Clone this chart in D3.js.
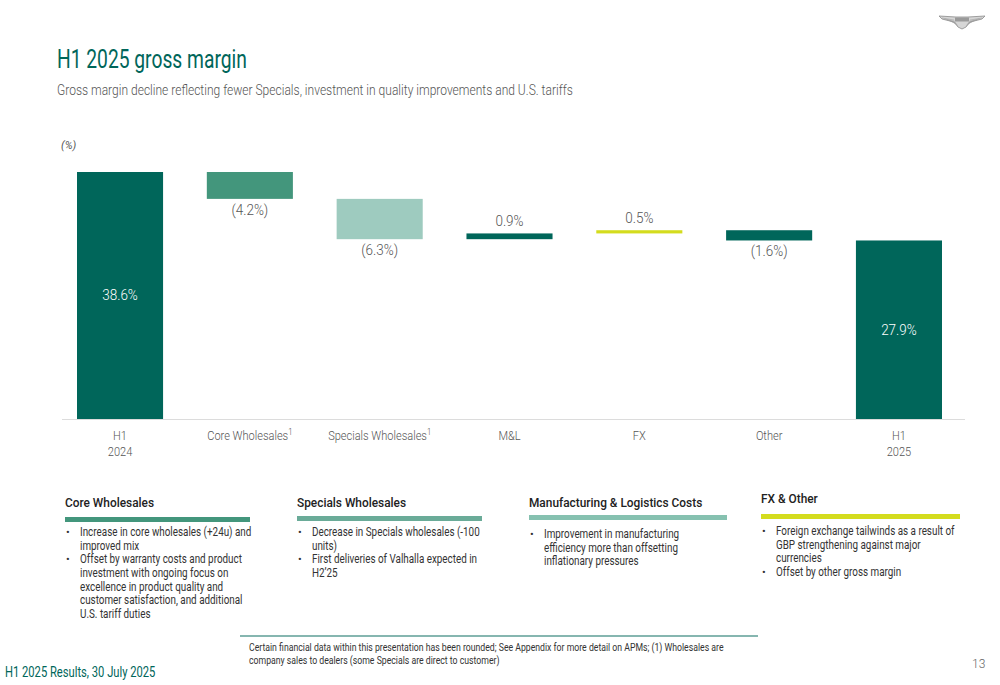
<!DOCTYPE html>
<html><head><meta charset="utf-8">
<script src="https://cdn.jsdelivr.net/npm/d3@7/dist/d3.min.js"></script>
<style>
html,body{margin:0;padding:0;background:#fff;}
svg{display:block;}
.t{font-family:"Roboto","Liberation Sans",sans-serif;}
</style></head>
<body>
<svg id="c" width="1000" height="685"></svg>
<script>
// ---- data ----
const categories = ["H1|2024", "Core Wholesales", "Specials Wholesales", "M&L", "FX", "Other", "H1|2025"];
const superscripts = ["", "1", "1", "", "", "", ""];
const kinds = ["total", "delta", "delta", "delta", "delta", "delta", "total"];
const values = [38.6, -4.2, -6.3, 0.9, 0.5, -1.6, 27.9];
const labels = ["38.6%", "(4.2%)", "(6.3%)", "0.9%", "0.5%", "(1.6%)", "27.9%"];
const barColors = ["#00665a", "#43967c", "#9ecbbf", "#00665a", "#d4dc1e", "#00665a", "#00665a"];

const sections = ["Core Wholesales", "Specials Wholesales", "Manufacturing & Logistics Costs", "FX & Other"];
const sectionColors = ["#43967c", "#6aab98", "#86c1b0", "#d4dc1e"];
const sectionBullets = [
  [["Increase in core wholesales (+24u) and", "improved mix"],
   ["Offset by warranty costs and product", "investment with ongoing focus on", "excellence in product quality and", "customer satisfaction, and additional", "U.S. tariff duties"]],
  [["Decrease in Specials wholesales (-100", "units)"],
   ["First deliveries of Valhalla expected in", "H2\u201925"]],
  [["Improvement in manufacturing", "efficiency more than offsetting", "inflationary pressures"]],
  [["Foreign exchange tailwinds as a result of", "GBP strengthening against major", "currencies"],
   ["Offset by other gross margin"]]
];

// condense helper: narrows text horizontally (around its anchor x) to mimic the condensed corporate font
function fit(sel, f) {
  sel.each(function() {
    const ax = +this.getAttribute("x");
    this.setAttribute("transform", `translate(${ax},0) scale(${f},1) translate(${-ax},0)`);
  });
  return sel;
}

// ---- compute waterfall ----
let running = 0;
const bars = values.map((v, i) => {
  let y0, y1;
  if (kinds[i] === "total") { y0 = 0; y1 = v; running = v; }
  else { y0 = running; y1 = running + v; running = y1; }
  return {cat: categories[i], v, y0, y1, label: labels[i], color: barColors[i], kind: kinds[i], sup: superscripts[i]};
});

const svg = d3.select("#c");

// header
fit(svg.append("text").attr("class","t").attr("x",57).attr("y",68)
  .attr("font-size",25).attr("fill","#00665a").text("H1 2025 gross margin"), 0.77);
fit(svg.append("text").attr("class","t").attr("x",57).attr("y",95)
  .attr("font-size",14.5).attr("font-weight",300).attr("fill","#555").text("Gross margin decline reflecting fewer Specials, investment in quality improvements and U.S. tariffs"), 0.83);
svg.append("text").attr("class","t").attr("x",61).attr("y",149)
  .attr("font-size",11).attr("font-style","italic").attr("fill","#555").text("(%)");

// logo (simplified wings)
const logo = svg.append("g").attr("transform","translate(962,21)");
logo.append("path").attr("d","M-23,-5 L-6,-4 L6,-4 L23,-5 L20,-2 L8,1 L4,6 L0,8 L-4,6 L-8,1 L-20,-2 Z")
  .attr("fill","#d6d6d6").attr("stroke","#8a8a8a").attr("stroke-width",0.8);
logo.append("rect").attr("x",-7).attr("y",-3.5).attr("width",14).attr("height",4).attr("fill","#9a9a9a");
for (let k=0;k<5;k++){
  logo.append("line").attr("x1",-20+k*2.5).attr("x2",-8+k*1).attr("y1",-3+k*0.9).attr("y2",-1+k*1.4).attr("stroke","#999").attr("stroke-width",0.5);
  logo.append("line").attr("x1",20-k*2.5).attr("x2",8-k*1).attr("y1",-3+k*0.9).attr("y2",-1+k*1.4).attr("stroke","#999").attr("stroke-width",0.5);
}

// scales
const x = d3.scaleBand().domain(categories).range([77, 942]).paddingInner(0.337).paddingOuter(0);
const y = d3.scaleLinear().domain([0, 38.6]).range([419, 172]);

// bars
const g = svg.append("g");
g.selectAll("rect.bar").data(bars).join("rect").attr("class","bar")
  .attr("x", d => x(d.cat)).attr("width", x.bandwidth())
  .attr("y", d => y(Math.max(d.y0, d.y1)))
  .attr("height", d => Math.abs(y(d.y0) - y(d.y1)))
  .attr("fill", d => d.color);

// axis baseline
svg.append("line").attr("x1",62).attr("x2",965).attr("y1",y(0)+0.5).attr("y2",y(0)+0.5)
  .attr("stroke","#dcdcdc").attr("stroke-width",1.2);

// value labels
fit(g.selectAll("text.val").data(bars).join("text").attr("class","t val")
  .attr("x", d => x(d.cat) + x.bandwidth()/2)
  .attr("y", d => {
    if (d.kind === "total") return (y(0) + y(d.y1))/2 + 5;
    if (d.v < 0) return y(d.y1) + 16;
    return y(d.y1) - 7;
  })
  .attr("text-anchor","middle").attr("font-size",15).attr("font-weight",300)
  .attr("fill", d => d.kind === "total" ? "#fff" : "#555")
  .text(d => d.label), 0.9);

// category axis
const xAxis = d3.axisBottom(x).tickSize(0).tickFormat("");
const ax = svg.append("g").attr("transform",`translate(0,${y(0)})`).call(xAxis);
ax.select(".domain").remove();
bars.forEach(d => {
  const cx = x(d.cat) + x.bandwidth()/2;
  const parts = d.cat.split("|");
  if (parts.length === 2) {
    fit(svg.append("text").attr("class","t").attr("x",cx).attr("y",440)
      .attr("text-anchor","middle").attr("font-size",13).attr("font-weight",300).attr("fill","#555").text(parts[0]), 0.85);
    fit(svg.append("text").attr("class","t").attr("x",cx).attr("y",456)
      .attr("text-anchor","middle").attr("font-size",13).attr("font-weight",300).attr("fill","#555").text(parts[1]), 0.85);
  } else {
    const t = svg.append("text").attr("class","t").attr("x",cx).attr("y",440)
      .attr("text-anchor","middle").attr("font-size",13).attr("font-weight",300).attr("fill","#555");
    t.append("tspan").text(parts[0]);
    if (d.sup) t.append("tspan").attr("font-size",9).attr("dy",-5).text(d.sup);
    fit(t, 0.85);
  }
});

// bottom sections
const secX = [65, 297, 529, 761];
const secW = [185, 185, 198, 199];
const headY = [507, 507, 507, 503];
const barY = [517, 516, 515, 514];
const textY = [536, 536, 538, 535];
sections.forEach((s, i) => {
  fit(svg.append("text").attr("class","t").attr("x",secX[i]).attr("y",headY[i])
    .attr("font-size",13.5).attr("font-weight",500).attr("fill","#222").text(s), 0.88);
  svg.append("rect").attr("x",secX[i]).attr("y",barY[i]).attr("width",secW[i]).attr("height",5)
    .attr("fill",sectionColors[i]);
  let ly = textY[i];
  sectionBullets[i].forEach(lines => {
    svg.append("text").attr("class","t").attr("x",secX[i]+1).attr("y",ly)
      .attr("font-size",11).attr("fill","#333").text("\u2022");
    lines.forEach(l => {
      fit(svg.append("text").attr("class","t").attr("x",secX[i]+15).attr("y",ly)
        .attr("font-size",12.5).attr("fill","#333").text(l), 0.79);
      ly += 13.7;
    });
  });
});

// footer
svg.append("line").attr("x1",240).attr("x2",758).attr("y1",636).attr("y2",636)
  .attr("stroke","#5e9e96").attr("stroke-width",1.5);
fit(svg.append("text").attr("class","t").attr("x",249).attr("y",651).attr("font-size",10.5).attr("fill","#333")
  .text("Certain financial data within this presentation has been rounded; See Appendix for more detail on APMs; (1) Wholesales are"), 0.83);
fit(svg.append("text").attr("class","t").attr("x",249).attr("y",664).attr("font-size",10.5).attr("fill","#333")
  .text("company sales to dealers (some Specials are direct to customer)"), 0.83);
fit(svg.append("text").attr("class","t").attr("x",5).attr("y",677).attr("font-size",14).attr("fill","#00665a")
  .text("H1 2025 Results, 30 July 2025"), 0.8);
svg.append("text").attr("class","t").attr("x",972).attr("y",668).attr("font-size",12).attr("font-weight",300).attr("fill","#666").text("13");
</script>
</body></html>
